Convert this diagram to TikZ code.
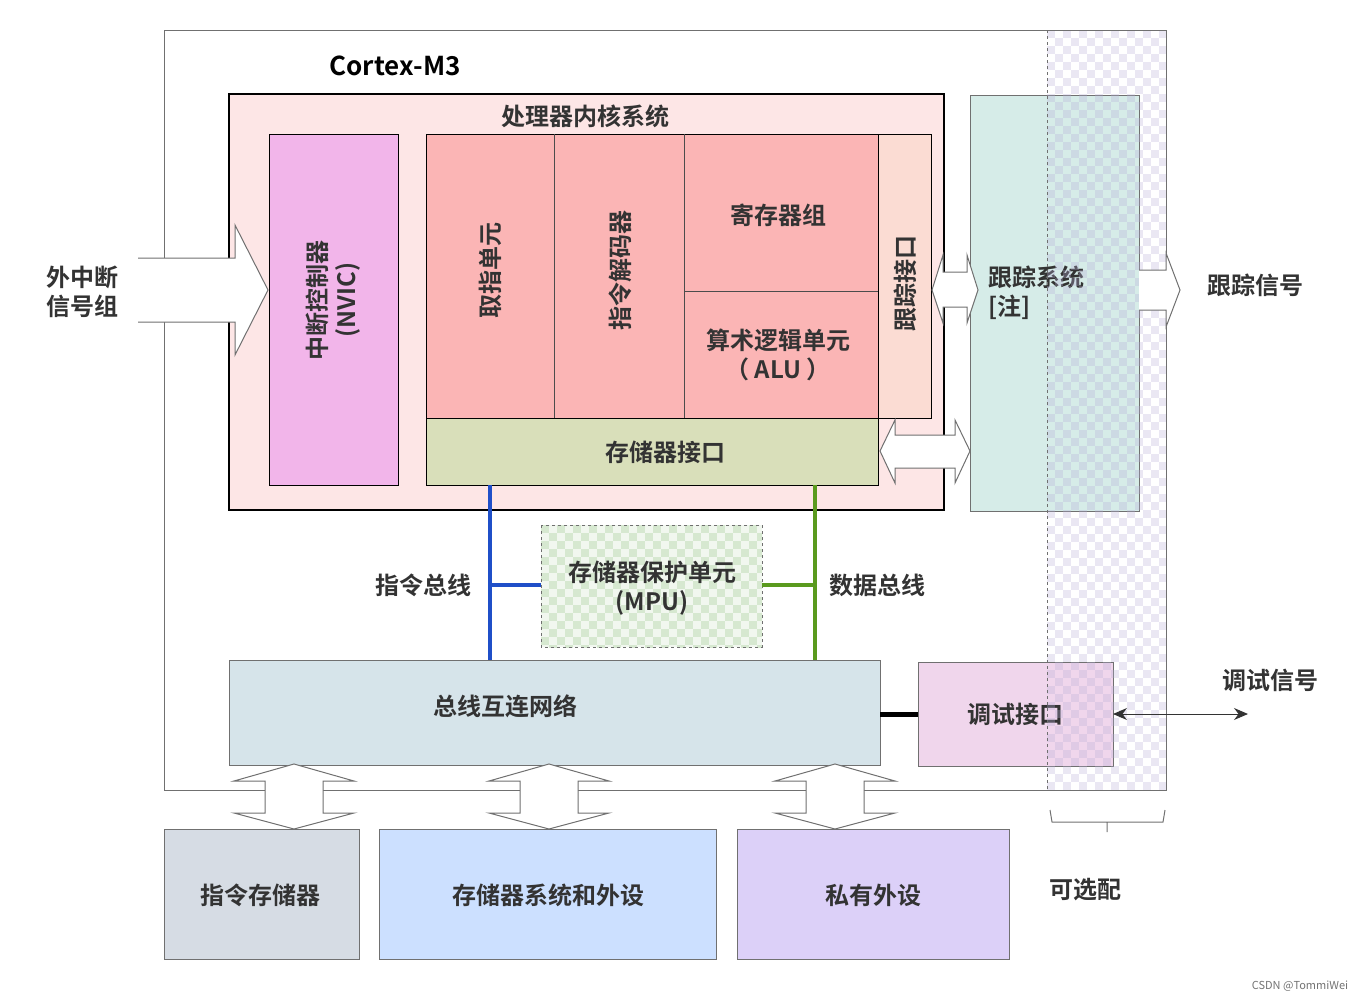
\documentclass[tikz,border=0pt]{standalone}
\usepackage{fontspec}
\setmainfont{Noto Sans CJK SC}[BoldFont={Noto Sans CJK SC Bold}]
\usetikzlibrary{arrows.meta,decorations.pathreplacing}
\definecolor{corepink}{HTML}{FDE6E6}
\definecolor{nvic}{HTML}{F2B5EA}
\definecolor{redb}{HTML}{FBB5B5}
\definecolor{tracei}{HTML}{FBDCD3}
\definecolor{memi}{HTML}{D9DFBA}
\definecolor{traces}{HTML}{D6ECE8}
\definecolor{busc}{HTML}{D6E4EA}
\definecolor{dbg}{HTML}{F0D6EC}
\definecolor{im}{HTML}{D6DCE4}
\definecolor{ms}{HTML}{CCE0FF}
\definecolor{pp}{HTML}{DCD0F8}
\definecolor{txt}{HTML}{333333}
\definecolor{lgray}{HTML}{707070}
\definecolor{chk}{HTML}{B8B0D8}
\definecolor{chkg}{HTML}{D6E8D0}
\definecolor{blueb}{HTML}{1F4FC8}
\definecolor{greenb}{HTML}{5A9A1E}
\tikzset{
 box/.style={draw=lgray,line width=1pt},
 lab/.style={font=\bfseries\fontsize{24}{29}\selectfont,text=txt,align=center},
 fat/.style={draw=lgray,line width=1pt,fill=white,line join=miter},
}
\begin{document}
\begin{tikzpicture}[x=1pt,y=-1pt]
\useasboundingbox (0,0) rectangle (1371,1001);
% outer
\draw[box] (164,30) rectangle (1166,790);
\node[lab,font=\bfseries\fontsize{26}{30}\selectfont,text=black] (title) at (395,66) {Cortex-M3};
% core
\draw[black,line width=1.5pt,fill=corepink] (229,94) rectangle (944,510);
\node[lab] (core) at (585,116) {处理器内核系统};
\draw[black,line width=1pt,fill=nvic] (269,134) rectangle (398,485);
\node[lab,rotate=90] (nvic) at (333,300) {中断控制器\\(NVIC)};
\draw[black,line width=1pt,fill=redb] (426,134) rectangle (878,418);
\draw[black!70,line width=0.8pt] (554,134) -- (554,418) (684,134) -- (684,418) (684,291) -- (878,291);
\node[lab,rotate=90] (fetch) at (490,270) {取指单元};
\node[lab,rotate=90] (dec) at (620,270) {指令解码器};
\node[lab] (reg) at (778,215) {寄存器组};
\node[lab] (alu) at (778,355) {算术逻辑单元\\（ ALU ）};
\draw[black,line width=1pt,fill=tracei] (878,134) rectangle (931,418);
\node[lab,rotate=90] (ti) at (905,283) {跟踪接口};
\draw[black,line width=1pt,fill=memi] (426,418) rectangle (878,485);
\node[lab] (mi) at (665,452) {存储器接口};
% trace system
\draw[box,fill=traces] (970,95) rectangle (1139,511);
\node[lab,align=left,anchor=north west] (ts) at (985,262) {跟踪系统\\{[}注{]}};
% MPU
\draw[draw=lgray,dashed,fill=chkg!35] (541,525) rectangle (762,647);
\begin{scope}
\clip (541,525) rectangle (762,647);
\foreach \i in {0,...,27}{\foreach \j in {0,...,15}{
 \pgfmathtruncatemacro\s{mod(\i+\j,2)}
 \ifnum\s=0 \fill[chkg] (541+\i*8,525+\j*8) rectangle ++(8,8);\fi}}
\end{scope}
\draw[draw=lgray,dashed] (541,525) rectangle (762,647);
\node[lab] (mpu) at (652,588) {存储器保护单元\\(MPU)};
% bus
\draw[box,fill=busc] (229,660) rectangle (880,765);
\node[lab] (bus) at (505,706) {总线互连网络};
\draw[box,fill=dbg] (918,662) rectangle (1113,766);
\node[lab] (dbgi) at (1015,714) {调试接口};
\draw[black,line width=5pt] (880,714) -- (918,714);
% buses
\draw[blueb,line width=4pt] (490,485) -- (490,660) (490,585) -- (541,585);
\draw[greenb,line width=4pt] (815,485) -- (815,660) (762,585) -- (815,585);
\node[lab] (ib) at (423,585) {指令总线};
\node[lab] (db) at (877,585) {数据总线};
% optional region checker
\begin{scope}
\clip (1047,30) rectangle (1166,790);
\foreach \i in {0,...,14}{\foreach \j in {0,...,95}{
 \pgfmathtruncatemacro\s{mod(\i+\j,2)}
 \ifnum\s=0 \fill[chk,opacity=0.3] (1047+\i*8,30+\j*8) rectangle ++(8,8);\fi}}
\end{scope}
\draw[lgray,dashed] (1047,30) -- (1047,790);
\draw[box] (1047,30) -- (1166,30) -- (1166,790) -- (1047,790);
% fat arrows
\draw[fat] (138,258) -- (235,258) -- (235,225) -- (268,290) -- (235,355) -- (235,322) -- (138,322);
\draw[fat] (932,290) -- (943,255) -- (943,272) -- (967,272) -- (967,255) -- (978,290) -- (967,323) -- (967,307) -- (943,307) -- (943,323) -- cycle;
\draw[fat] (880,451) -- (895,420) -- (895,435) -- (955,435) -- (955,420) -- (970,451) -- (955,483) -- (955,468) -- (895,468) -- (895,483) -- cycle;
\draw[fat] (1139,270) -- (1166,270) -- (1166,253) -- (1180,290) -- (1166,327) -- (1166,310) -- (1139,310);
\foreach \c in {294,549,835}{
 \draw[fat] (\c,764) -- (\c+60,781) -- (\c+29,781) -- (\c+29,813) -- (\c+60,813) -- (\c,829) -- (\c-60,813) -- (\c-29,813) -- (\c-29,781) -- (\c-60,781) -- cycle;}
% bottom boxes
\draw[box,fill=im] (164,829) rectangle (359,959);
\node[lab] (imn) at (260,895) {指令存储器};
\draw[box,fill=ms] (379,829) rectangle (716,959);
\node[lab] (msn) at (548,895) {存储器系统和外设};
\draw[box,fill=pp] (737,829) rectangle (1009,959);
\node[lab] (ppn) at (873,895) {私有外设};
% labels outside
\node[lab] (ext) at (82,292) {外中断\\信号组};
\node[lab] (tsig) at (1255,285) {跟踪信号};
\node[lab] (dsig) at (1270,680) {调试信号};
\coordinate (dend) at (1248,714);
\draw[{Stealth[length=14pt,width=12pt]}-{Stealth[length=14pt,width=12pt]},line width=1pt,black!80] (dbgi.east -| 1113,714) -- (dend);
% brace
\draw[lgray,line width=1pt] (1050,810) -- (1052,822) -- (1163,822) -- (1165,810) (1107,822) -- (1107,832);
\node[lab] (opt) at (1085,890) {可选配};
\node[font=\fontsize{11}{13}\selectfont,text=black!55] (csdn) at (1300,986) {CSDN @TommiWei};
\end{tikzpicture}
\end{document}
